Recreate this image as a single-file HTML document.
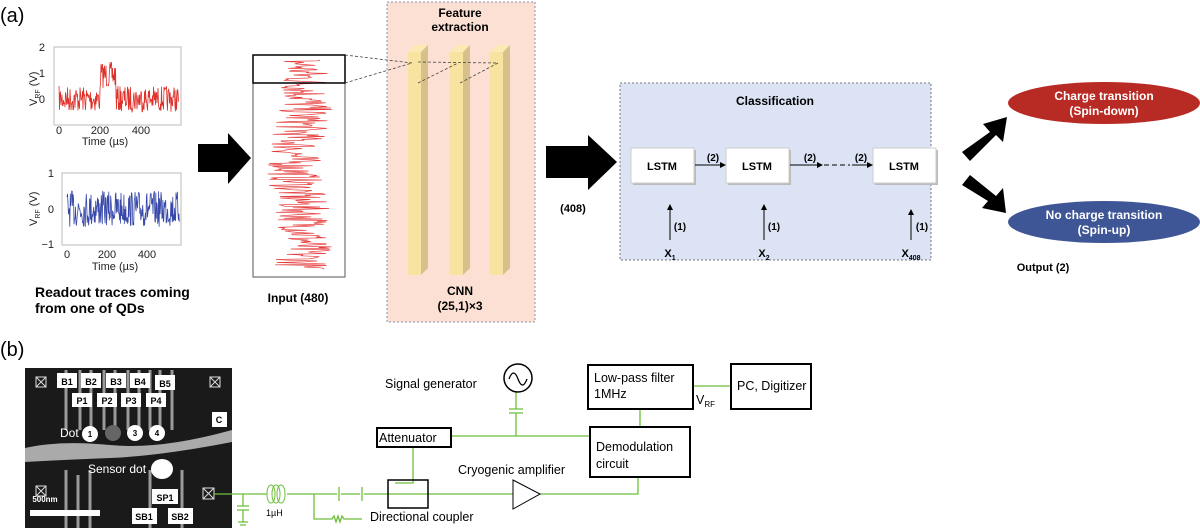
<!DOCTYPE html>
<html><head><meta charset="utf-8"><style>
body{margin:0;background:#fff}
svg{display:block;font-family:"Liberation Sans",Arial,sans-serif}
.b{font-weight:bold}
</style></head><body>
<svg id="s" width="1200" height="528" viewBox="0 0 1200 528" xmlns="http://www.w3.org/2000/svg">
<defs>
<marker id="ah" markerWidth="6" markerHeight="6" refX="5" refY="3" orient="auto"><path d="M0,0L6,3L0,6z" fill="#000"/></marker>
</defs>
<text x="0" y="22" font-size="20">(a)</text>
<!-- top plot -->
<rect x="54" y="47" width="127" height="78" fill="none" stroke="#bbb"/>
<g font-size="11" fill="#222">
<text x="45" y="51" text-anchor="end">2</text><text x="45" y="77" text-anchor="end">1</text><text x="45" y="103" text-anchor="end">0</text>
<text x="59" y="134" text-anchor="middle">0</text><text x="100" y="134" text-anchor="middle">200</text><text x="141" y="134" text-anchor="middle">400</text>
<text x="105" y="145" text-anchor="middle" font-size="11">Time (µs)</text>
<text transform="translate(37,106) rotate(-90)" font-size="11">V<tspan font-size="7" dy="3">RF</tspan><tspan dy="-3"> (V)</tspan></text>
<rect x="62" y="173" width="119" height="72" fill="none" stroke="#bbb"/>
<text x="54" y="177" text-anchor="end">1</text><text x="54" y="213" text-anchor="end">0</text><text x="54" y="248" text-anchor="end">−1</text>
<text x="67" y="258" text-anchor="middle">0</text><text x="107" y="258" text-anchor="middle">200</text><text x="147" y="258" text-anchor="middle">400</text>
<text x="115" y="270" text-anchor="middle" font-size="11">Time (µs)</text>
<text transform="translate(37,226) rotate(-90)" font-size="11">V<tspan font-size="7" dy="3">RF</tspan><tspan dy="-3"> (V)</tspan></text>
</g>
<polyline id="t1" fill="none" stroke="#e0302a" stroke-width="0.8"/>
<polyline id="t2" fill="none" stroke="#3748a8" stroke-width="0.8"/>
<text x="35" y="297" font-size="14" class="b">Readout traces coming</text>
<text x="35" y="313" font-size="14" class="b">from one of QDs</text>
<!-- arrow1 -->
<path d="M198,144H228V133L251,158L228,184V172H198z" fill="#000"/>
<!-- input -->
<rect x="253" y="55" width="92" height="222" fill="none" stroke="#555" stroke-width="1"/>
<polyline id="t3" fill="none" stroke="#e53a3a" stroke-width="0.7"/>
<rect x="253" y="55" width="92" height="28" fill="none" stroke="#000" stroke-width="1.5"/>
<text x="298" y="302" font-size="12" class="b" text-anchor="middle">Input (480)</text>
<!-- feature box -->
<rect x="387" y="2" width="148" height="320" fill="#fce0d4" stroke="#8890b0" stroke-dasharray="2,2"/>
<text x="460" y="17" font-size="12" class="b" text-anchor="middle">Feature</text>
<text x="460" y="31" font-size="12" class="b" text-anchor="middle">extraction</text>
<g>
<path d="M408,52L415,45H428L421,52z" fill="#fbeab4"/><rect x="408" y="52" width="13" height="223" fill="#f8e4a0"/><path d="M421,52L428,45V268L421,275z" fill="#d8c08a"/>
<path d="M450,52L457,45H470L463,52z" fill="#fbeab4"/><rect x="450" y="52" width="13" height="223" fill="#f8e4a0"/><path d="M463,52L470,45V268L463,275z" fill="#d8c08a"/>
<path d="M490,52L497,45H510L503,52z" fill="#fbeab4"/><rect x="490" y="52" width="13" height="223" fill="#f8e4a0"/><path d="M503,52L510,45V268L503,275z" fill="#d8c08a"/>
</g>
<g stroke="#444" stroke-dasharray="3,2" fill="none" stroke-width="0.8">
<path d="M345,55L412,63M345,83L412,63M418,62L498,63M418,83L458,63M460,83L498,63"/>
</g>
<text x="460" y="295" font-size="12" class="b" text-anchor="middle">CNN</text>
<text x="460" y="310" font-size="12" class="b" text-anchor="middle">(25,1)×3</text>
<!-- arrow2 -->
<path d="M546,146H588V135L617,162L588,190V178H546z" fill="#000"/>
<text x="573" y="212" font-size="11" class="b" text-anchor="middle">(408)</text>
<!-- classification -->
<rect x="620" y="83" width="311" height="177" fill="#dbe3f4" stroke="#777" stroke-dasharray="2,2"/>
<text x="775" y="105" font-size="12" class="b" text-anchor="middle">Classification</text>
<g font-size="11" class="b" text-anchor="middle">
<rect x="633" y="150" width="63" height="35" fill="#bbb"/><rect x="631" y="148" width="63" height="35" fill="#fff" stroke="#ccc"/><text x="662" y="170">LSTM</text>
<rect x="728" y="150" width="63" height="35" fill="#bbb"/><rect x="726" y="148" width="63" height="35" fill="#fff" stroke="#ccc"/><text x="757" y="170">LSTM</text>
<rect x="875" y="150" width="63" height="35" fill="#bbb"/><rect x="873" y="148" width="63" height="35" fill="#fff" stroke="#ccc"/><text x="904" y="170">LSTM</text>
<g stroke="#000" stroke-width="1"><path d="M695,165H725" marker-end="url(#ah)"/><path d="M790,165H822" marker-end="url(#ah)"/><path d="M824,165H850" stroke-dasharray="5,3"/><path d="M852,165H872" marker-end="url(#ah)"/>
<path d="M670,240V205" marker-end="url(#ah)"/><path d="M764,240V205" marker-end="url(#ah)"/><path d="M911,240V210" marker-end="url(#ah)"/></g>
<text x="713" y="161" font-size="10">(2)</text><text x="810" y="161" font-size="10">(2)</text><text x="861" y="161" font-size="10">(2)</text>
<text x="680" y="230" font-size="10">(1)</text><text x="774" y="230" font-size="10">(1)</text><text x="922" y="230" font-size="10">(1)</text>
<text x="670" y="257">X<tspan font-size="7" dy="3">1</tspan></text><text x="764" y="257">X<tspan font-size="7" dy="3">2</tspan></text><text x="911" y="257">X<tspan font-size="7" dy="3">408</tspan></text>
</g>
<!-- outputs -->
<path d="M962,152L990,132L983,124L1007,117L1003,142L996,135L970,161z" fill="#000"/>
<path d="M962,185L970,175L996,196L1003,188L1006,213L982,208L988,201z" fill="#000"/>
<ellipse cx="1104" cy="103" rx="96" ry="21" fill="#b82a24"/>
<text x="1104" y="100" font-size="12" class="b" fill="#fff" text-anchor="middle">Charge transition</text>
<text x="1104" y="115" font-size="12" class="b" fill="#fff" text-anchor="middle">(Spin-down)</text>
<ellipse cx="1104" cy="222" rx="96" ry="21" fill="#3f5696"/>
<text x="1104" y="219" font-size="12" class="b" fill="#fff" text-anchor="middle">No charge transition</text>
<text x="1104" y="234" font-size="12" class="b" fill="#fff" text-anchor="middle">(Spin-up)</text>
<text x="1043" y="271" font-size="11" class="b" text-anchor="middle">Output (2)</text>

<!-- (b) -->
<text x="0" y="356" font-size="20">(b)</text>
<rect x="25" y="368" width="207" height="160" fill="#1a1a1a"/>
<g stroke="#9a9a9a" stroke-width="3" fill="none">
<path d="M66,370V430M80,370V430M91,370V430M104,370V430M115,370V430M128,370V430M139,370V430M150,370V430M160,370V430M172,370V430"/>
<path d="M66,528V470M78,528V475M90,528V470M150,528V470M182,528V470"/>
</g>
<path d="M25,448Q60,440 110,445T232,430V442Q160,456 110,458T25,462z" fill="#aaa"/>
<g font-size="9" class="b" text-anchor="middle">
<g fill="#fff"><rect x="57" y="373" width="20" height="15"/><rect x="81" y="373" width="20" height="15"/><rect x="106" y="373" width="20" height="15"/><rect x="130" y="373" width="20" height="15"/><rect x="155" y="375" width="20" height="15"/>
<rect x="72" y="393" width="20" height="14"/><rect x="97" y="393" width="20" height="14"/><rect x="121" y="393" width="20" height="14"/><rect x="146" y="393" width="20" height="14"/>
<rect x="212" y="412" width="15" height="15"/><rect x="152" y="489" width="26" height="15"/><rect x="132" y="508" width="25" height="16"/><rect x="168" y="508" width="25" height="16"/>
<circle cx="90" cy="434" r="8"/><circle cx="135" cy="433" r="8"/><circle cx="157" cy="433" r="8"/><ellipse cx="162" cy="469" rx="11" ry="10"/><rect x="30" y="510" width="70" height="6"/></g>
<circle cx="113" cy="433" r="8" fill="#666"/>
<text x="67" y="385">B1</text><text x="91" y="385">B2</text><text x="116" y="385">B3</text><text x="140" y="385">B4</text><text x="165" y="387">B5</text>
<text x="82" y="404">P1</text><text x="107" y="404">P2</text><text x="131" y="404">P3</text><text x="156" y="404">P4</text>
<text x="219" y="423">C</text><text x="165" y="501">SP1</text><text x="144" y="520">SB1</text><text x="180" y="520">SB2</text>
<text x="90" y="437" font-size="8">1</text><text x="135" y="436" font-size="8">3</text><text x="157" y="436" font-size="8">4</text>
<text x="45" y="502" fill="#fff" font-size="8">500nm</text>
</g>
<text x="60" y="437" font-size="12" fill="#fff">Dot</text>
<text x="88" y="473" font-size="12" fill="#fff">Sensor dot</text>
<g stroke="#ddd" fill="none" stroke-width="1"><rect x="36" y="377" width="10" height="10"/><path d="M36,377l10,10M46,377l-10,10"/><rect x="210" y="377" width="10" height="10"/><path d="M210,377l10,10M220,377l-10,10"/><rect x="36" y="486" width="10" height="10"/><path d="M36,486l10,10M46,486l-10,10"/><rect x="203" y="488" width="11" height="11"/><path d="M203,488l11,11M214,488l-11,11"/></g>
<!-- circuit -->
<g stroke="#6cbf3a" stroke-width="1.3" fill="none">
<path d="M214,494H267M287,494H337M341,494H360M364,494H513M540,494H638V477"/>
<path d="M243,494V506M237,506H249M237,510H249M243,510V522M238,522H248M240,525H246"/>
<path d="M267,494c0,-12 8,-12 8,0c0,12 -8,12 -8,0M272,494c0,-12 8,-12 8,0c0,12 -8,12 -8,0M277,494c0,-12 8,-12 8,0c0,12 -8,12 -8,0" stroke-width="1"/>
<path d="M339,487V501M362,487V501"/>
<path d="M314,494V519H332l2,-3 2,6 2,-6 2,6 2,-6 2,3H362"/>
<path d="M413,447V483H395"/>
<path d="M451,436H590M516,436V413M509,413H523M509,409H523M516,409V392"/>
<path d="M640,409V427M693,386H731"/>
</g>
<g stroke="#000" stroke-width="1.5" fill="none">
<rect x="388" y="480" width="40" height="28"/>
<path d="M513,480L540,494L513,509z" stroke-width="1"/>
<circle cx="518" cy="378" r="14"/><path d="M509,379c3,-8 6,-8 9,0s6,8 9,0" stroke-width="1.3"/>
<rect x="377" y="428" width="74" height="19" stroke-width="2"/>
<rect x="588" y="365" width="105" height="44" stroke-width="2"/>
<rect x="731" y="364" width="80" height="45" stroke-width="2"/>
<rect x="590" y="427" width="100" height="50" stroke-width="2"/>
</g>
<g font-size="12.5">
<text x="379" y="442">Attenuator</text>
<text x="385" y="388">Signal generator</text>
<text x="594" y="382">Low-pass filter</text><text x="594" y="398">1MHz</text>
<text x="737" y="390">PC, Digitizer</text>
<text x="696" y="404">V<tspan font-size="8" dy="3">RF</tspan></text>
<text x="596" y="451">Demodulation</text><text x="596" y="468">circuit</text>
<text x="458" y="474">Cryogenic amplifier</text>
<text x="370" y="521">Directional coupler</text>
<text x="266" y="516" font-size="9">1µH</text>
</g>
</svg>
<script>
var seed=7;function r(){seed=(seed*16807)%2147483647;return seed/2147483647-0.5;}
function pts(n,f){var a=[];for(var i=0;i<n;i++)a.push(f(i));return a.join(' ');}
document.getElementById('t1').setAttribute('points',pts(240,function(i){var x=59+i*0.5;var b=(x>100&&x<116)?75:99;return x.toFixed(1)+','+(b+r()*26).toFixed(1);}));
document.getElementById('t2').setAttribute('points',pts(240,function(i){var x=67+i*0.47;return x.toFixed(1)+','+(209+r()*36).toFixed(1);}));
document.getElementById('t3').setAttribute('points',pts(280,function(i){var y=60+i*0.75;return (300+r()*55+Math.sin(i/30)*6).toFixed(1)+','+y.toFixed(1);}));
</script>
</body></html>
